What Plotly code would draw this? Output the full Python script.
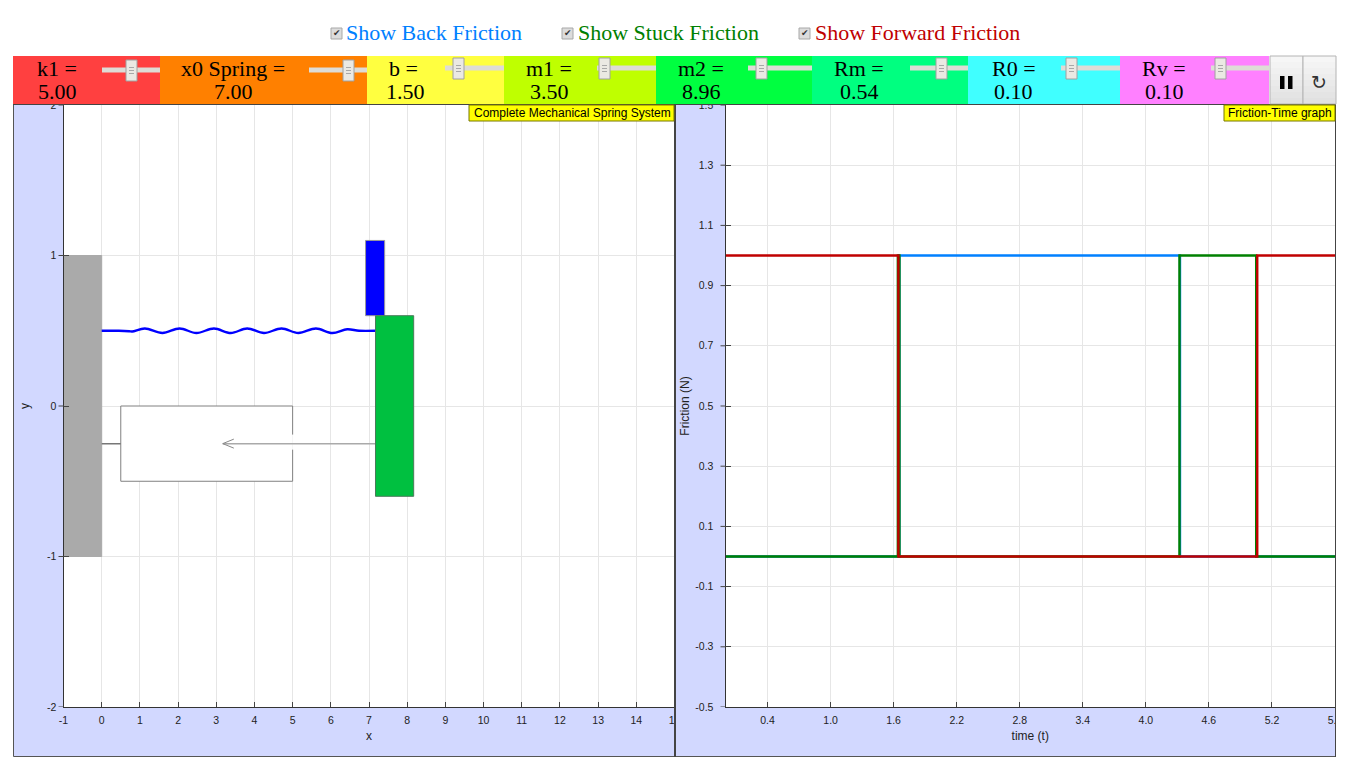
"""Mechanical spring system page: two plots with the control bar above them."""

import plotly.graph_objects as go

W, H = 1347, 768
SERIF = "Liberation Serif"
SANS = "Liberation Sans"

# controls
param_labels = ["k1 =", "x0 Spring =", "b =", "m1 =", "m2 =", "Rm =", "R0 =", "Rv ="]
param_values = ["5.00", "7.00", "1.50", "3.50", "8.96", "0.54", "0.10", "0.10"]
check_labels = ["Show Back Friction", "Show Stuck Friction", "Show Forward Friction"]

# left plot ticks
sys_xticks = list(range(-1, 16))
sys_xlabels = [str(v) for v in sys_xticks]
sys_yticks = [-2, -1, 0, 1, 2]
sys_ylabels = ["-2", "-1", "0", "1", "2"]

# right plot ticks
time_xticks = [0.4, 1.0, 1.6, 2.2, 2.8, 3.4, 4.0, 4.6, 5.2, 5.8]
time_xlabels = ["0.4", "1.0", "1.6", "2.2", "2.8", "3.4", "4.0", "4.6", "5.2", "5.8"]
time_yticks = [-0.5, -0.3, -0.1, 0.1, 0.3, 0.5, 0.7, 0.9, 1.1, 1.3, 1.5]
time_ylabels = ["-0.5", "-0.3", "-0.1", "0.1", "0.3", "0.5", "0.7", "0.9", "1.1", "1.3", "1.5"]

# bodies in the mechanical system
wall_x = [-1, 0, 0, -1, -1]
wall_y = [-1, -1, 1, 1, -1]
mass1_x = [6.91, 7.41, 7.41, 6.91, 6.91]
mass1_y = [0.6, 0.6, 1.1, 1.1, 0.6]
mass2_x = [7.17, 8.17, 8.17, 7.17, 7.17]
mass2_y = [-0.6, -0.6, 0.6, 0.6, -0.6]
damper_x = [5, 5, 0.5, 0.5, 5, 5]
damper_y = [-0.19, 0, 0, -0.5, -0.5, -0.29]
stub_x = [0, 0.5]
stub_y = [-0.25, -0.25]
rod_x = [7.17, 3.17]
rod_y = [-0.25, -0.25]
head_x = [3.46, 3.17, 3.46]
head_y = [-0.22, -0.25, -0.28]
spring_x = [0, 0.45, 0.72, 0.8, 1.13, 1.59, 2.04, 2.48, 2.94, 3.38, 3.81, 4.25, 4.71, 5.15,
            5.61, 6.04, 6.43, 6.74, 7.17]
spring_y = [0.5, 0.5, 0.497, 0.495, 0.515, 0.485, 0.515, 0.485, 0.515, 0.485, 0.515, 0.485,
            0.515, 0.485, 0.515, 0.485, 0.51, 0.5, 0.5]

# friction against time
back_t = [0, 1.655, 1.655, 4.325, 4.325, 5.8]
back_f = [0, 0, 1, 1, 0, 0]
stuck_t = [0, 1.64, 1.64, 1.655, 1.655, 4.32, 4.32, 5.05, 5.05, 5.8]
stuck_f = [0, 0, 1, 1, 0, 0, 1, 1, 0, 0]
forward_t = [0, 1.645, 1.645, 5.06, 5.06, 5.8]
forward_f = [1, 1, 0, 0, 1, 1]


def px(x):
    return x / W


def py(y):
    return 1 - y / H


def rect(x0, y0, x1, y1, fill, line=None, width=1, layer="above"):
    return dict(type="rect", xref="paper", yref="paper", layer=layer,
                x0=px(x0), x1=px(x1), y0=py(y0), y1=py(y1), fillcolor=fill,
                line=dict(color=line, width=width if line else 0))


def label(x, y, text, size=12, color="#000", font=SANS, **kw):
    return dict(xref="paper", yref="paper", x=px(x), y=py(y), text=text, showarrow=False,
                font=dict(family=font, size=size, color=color), xanchor="center",
                yanchor="middle", **kw)


fig = go.Figure()


def body(xs, ys, fill, line, xaxis="x", yaxis="y"):
    fig.add_scatter(x=xs, y=ys, mode="lines", fill="toself", fillcolor=fill,
                    line=dict(color=line, width=1), xaxis=xaxis, yaxis=yaxis)


def wire(xs, ys, color, width=1, shape="linear", xaxis="x", yaxis="y"):
    fig.add_scatter(x=xs, y=ys, mode="lines", xaxis=xaxis, yaxis=yaxis,
                    line=dict(color=color, width=width, shape=shape))


body(wall_x, wall_y, "#aaaaaa", "#aaaaaa")
fig.add_scatter(x=damper_x, y=damper_y, mode="none", fill="toself", fillcolor="#ffffff")
wire(damper_x, damper_y, "#808080")
wire(stub_x, stub_y, "#777777", 1.5)
wire(rod_x, rod_y, "#aaaaaa", 1.5)
wire(head_x, head_y, "#888888")
wire(spring_x, spring_y, "#0000ff", 2.4, "spline")
body(mass1_x, mass1_y, "#0000ff", "#999999")
body(mass2_x, mass2_y, "#00c040", "#4a7a5a")

wire(back_t, back_f, "#0080ff", 2.4, xaxis="x2", yaxis="y2")
wire(stuck_t, stuck_f, "#008000", 2.4, xaxis="x2", yaxis="y2")
wire(forward_t, forward_f, "#c00000", 2.4, xaxis="x2", yaxis="y2")

# boards and plot backgrounds
BOARD = "#d2d8ff"
shapes = [
    rect(13.5, 104.5, 675, 756.5, BOARD, "#555555", layer="below"),
    rect(675, 104.5, 1335.5, 756.5, BOARD, "#555555", layer="below"),
    rect(63.5, 105, 675, 707, "#ffffff", layer="below"),
    rect(725.5, 105, 1335, 707, "#ffffff", layer="below"),
]

# the y ticks cross the axis line: add the part outside the plot
for v in sys_yticks:
    shapes.append(dict(type="line", xref="paper", yref="y", x0=px(58.5), x1=px(64), y0=v, y1=v,
                       line=dict(color="#444444", width=1)))
for v in time_yticks:
    shapes.append(dict(type="line", xref="paper", yref="y2", x0=px(720.5), x1=px(726), y0=v, y1=v,
                       line=dict(color="#444444", width=1)))

# clip the tick labels that run past the boards
shapes += [
    rect(675, 708, 690, 756, BOARD),
    rect(1336, 708, 1347, 756, "#ffffff"),
    dict(type="line", xref="paper", yref="paper", x0=px(675), x1=px(675), y0=py(104), y1=py(757),
         line=dict(color="#444444", width=2)),
    dict(type="line", xref="paper", yref="paper", x0=px(1335.5), x1=px(1335.5), y0=py(104),
         y1=py(757), line=dict(color="#444444", width=1)),
]

# control bar
bar_edges = [13, 160, 367, 504, 656, 812, 968, 1120, 1269]
bar_colors = ["#ff4040", "#ff8000", "#ffff40", "#bfff00", "#00ff40", "#00ff80", "#40ffff", "#ff80ff"]
label_x = [57, 233, 403, 549, 701, 859, 1014, 1164]
value_x = [57, 233, 405, 549, 701, 859, 1014, 1164]
track_x0 = [102, 309, 445, 597, 748, 910, 1061, 1211]
thumb_x0 = [126, 343, 453, 599, 756, 936, 1066, 1215]
annotations = []
for i, txt in enumerate(param_labels):
    shapes.append(rect(bar_edges[i], 56, bar_edges[i + 1], 104, bar_colors[i]))
    top = 60 if i < 2 else 58
    mid = top + 10
    shapes.append(rect(track_x0[i], mid - 2.5, bar_edges[i + 1], mid + 2.5, "#dedcd6"))
    shapes.append(rect(thumb_x0[i], top, thumb_x0[i] + 11, top + 21, "#ebe9e3", "#a0a0a0"))
    for dy in (-3, 0, 3):
        shapes.append(rect(thumb_x0[i] + 3, mid + dy, thumb_x0[i] + 8, mid + dy + 1, "#a8a8a8"))
    annotations.append(label(label_x[i], 68.5, txt, 22, font=SERIF))
    annotations.append(label(value_x[i], 92, param_values[i], 22, font=SERIF))
shapes.append(dict(type="line", xref="paper", yref="paper", x0=px(13), x1=px(1336), y0=py(104.5),
                   y1=py(104.5), line=dict(color="#444444", width=1)))

# buttons
for x0 in (1270, 1303):
    for k in range(8):
        grey = 246 - k * 3
        shapes.append(rect(x0, 56 + k * 6, x0 + 33, 62 + k * 6, f"rgb({grey},{grey},{grey})"))
    shapes.append(rect(x0, 56, x0 + 33, 104, "rgba(0,0,0,0)", "#b4b4b4"))
shapes.append(rect(1280, 76, 1284.5, 89, "#000000"))
shapes.append(rect(1288, 76, 1292.5, 89, "#000000"))
annotations.append(label(1319, 82, "↻", 19, "#333333", "DejaVu Sans"))

# friction checkboxes
check_box_x = [331, 562, 799]
check_text_x = [434, 668, 917]
check_colors = ["#0080ff", "#008000", "#c00000"]
for i, txt in enumerate(check_labels):
    shapes.append(rect(check_box_x[i], 28, check_box_x[i] + 11, 39, "#dcdcdc", "#a8a8a8"))
    annotations.append(label(check_box_x[i] + 5.5, 33.5, "✔", 9, "#333333", "DejaVu Sans"))
    annotations.append(label(check_text_x[i], 32.5, txt, 22, check_colors[i], SERIF))

# plot captions
shapes.append(rect(469, 105, 674, 121, "#ffff00", "#777700"))
shapes.append(rect(1224, 105, 1335, 121, "#ffff00", "#777700"))
annotations.append(label(572, 113, "Complete Mechanical Spring System", 12))
annotations.append(label(1280, 113, "Friction-Time graph", 12))

tick_font = dict(family=SANS, size=10.5, color="#222222")
title_font = dict(family=SANS, size=12, color="#222222")
axis = dict(showgrid=True, gridcolor="#e6e6e6", gridwidth=1, zeroline=False, showline=True,
            linecolor="#333333", linewidth=1, ticks="inside", ticklen=5, tickcolor="#444444",
            tickfont=tick_font, tickmode="array", fixedrange=True, automargin=False)

fig.update_layout(
    width=W, height=H, margin=dict(l=0, r=0, t=0, b=0, autoexpand=False), autosize=False,
    paper_bgcolor="#ffffff", plot_bgcolor="rgba(0,0,0,0)",
    showlegend=False, hovermode=False, shapes=shapes, annotations=annotations,
    xaxis=dict(axis, domain=[px(63.5), px(674.5)], range=[-1, 15], anchor="y",
               tickvals=sys_xticks, ticktext=sys_xlabels, ticklabelstandoff=3,
               title=dict(text="x", font=title_font, standoff=7)),
    yaxis=dict(axis, domain=[py(707), py(105)], range=[-2, 2], anchor="x",
               tickvals=sys_yticks, ticktext=sys_ylabels, ticklabelstandoff=4,
               title=dict(text="y", font=title_font, standoff=14)),
    xaxis2=dict(axis, domain=[px(725.5), px(1335)], range=[0, 5.8], anchor="y2",
                tickvals=time_xticks, ticktext=time_xlabels, ticklabelstandoff=3,
                title=dict(text="time (t)", font=title_font, standoff=7)),
    yaxis2=dict(axis, domain=[py(707), py(105)], range=[-0.5, 1.5], anchor="x2",
                tickvals=time_yticks, ticktext=time_ylabels, ticklabelstandoff=9,
                title=dict(text="Friction (N)", font=title_font, standoff=3)),
)

fig.write_html("out.html", config=dict(displayModeBar=False),
               post_script="document.body.style.margin='0';document.body.style.overflow='hidden';")
